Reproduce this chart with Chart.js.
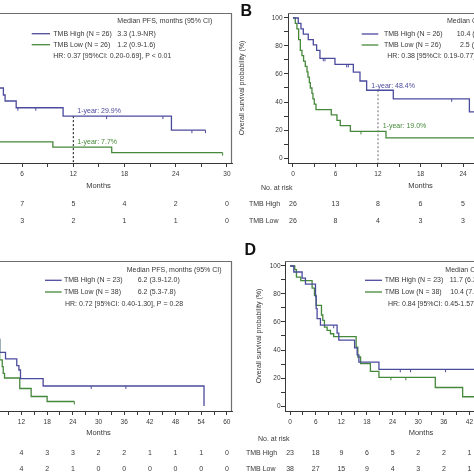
<!DOCTYPE html>
<html>
<head>
<meta charset="utf-8">
<title>TMB High vs TMB Low - Kaplan-Meier curves</title>
<script src="https://cdn.jsdelivr.net/npm/chart.js"></script>
<style>
  html, body { margin: 0; padding: 0; background: #fff; overflow: hidden; }
  body { width: 474px; height: 474px; position: relative; }
  canvas { position: absolute; }
</style>
</head>
<body>
<canvas id="cA"></canvas>
<canvas id="cB"></canvas>
<canvas id="cC"></canvas>
<canvas id="cD"></canvas>
<script>
// ---- data (months / survival %) ----
// A: PFS
const aHiT = [0, 0.9, 1.4, 1.8, 2.2, 2.6, 2.9, 3.3, 3.8, 4.0, 5.3, 10.8, 23.5, 27.5];
const aHiS = [100, 96.2, 88.5, 80.8, 73.1, 65.4, 57.7, 50.0, 45.0, 40.7, 35.9, 29.9, 19.9, 19.9];
const aHiC = [5.5, 7.6, 15.9, 22.5, 25.9, 27.5];
const aLoT = [0, 0.6, 0.9, 1.1, 1.2, 1.5, 1.9, 2.4, 2.9, 3.2, 9.6, 16.5, 29.5];
const aLoS = [100, 88.5, 73.1, 57.7, 46.2, 34.6, 26.9, 19.2, 15.4, 11.5, 7.7, 3.8, 3.8];
const aLoC = [29.5];
const aRiskT = [0, 6, 12, 18, 24, 30];
const aRiskHi = [26, 7, 5, 4, 2, 0];
const aRiskLo = [26, 3, 2, 1, 1, 0];
const aYear = [29.9, 7.7];

// B: OS
const bHiT = [0, 0.75, 1.13, 1.46, 2.16, 2.87, 3.34, 3.81, 5.93, 8.52, 9.46, 10.4, 14.16, 24.9, 30.0];
const bHiS = [100, 96.2, 92.3, 88.5, 84.6, 80.8, 76.9, 71.2, 66.9, 61.3, 55.0, 48.4, 42.3, 33.0, 33.0];
const bHiC = [4.28, 4.52, 7.58, 7.81, 22.4];
const bLoT = [0, 0.33, 0.56, 0.8, 1.04, 1.27, 1.5, 1.74, 1.98, 2.12, 2.31, 2.45, 2.68, 2.82, 3.01, 3.25, 5.41, 6.21, 6.68, 8.1, 13.13, 30.0];
const bLoS = [100, 96.2, 92.3, 84.6, 76.9, 73.1, 69.2, 65.4, 61.5, 57.7, 53.8, 50.0, 46.2, 42.3, 38.5, 34.6, 30.8, 26.9, 23.1, 19.0, 14.4, 14.4];
const bLoC = [9.6];
const bRiskT = [0, 6, 12, 18, 24];
const bRiskHi = [26, 13, 8, 6, 5];
const bRiskLo = [26, 8, 4, 3, 3];
const bYear = [48.4, 19.0];

// C: PFS
const cHiT = [0, 1.6, 2.7, 3.8, 5.0, 6.2, 6.9, 8.27, 10.9, 11.4, 11.77, 17.06, 54.66];
const cHiS = [100, 91.3, 82.6, 69.6, 60.9, 47.8, 38.3, 33.6, 28.8, 25.7, 19.5, 14.3, 0];
const cHiC = [28.3, 36.4];
const cLoT = [0, 1.0, 2.0, 3.0, 4.0, 5.3, 6.2, 6.9, 7.5, 7.73, 8.04, 11.6, 14.26, 17.99, 24.36];
const cLoS = [100, 92.1, 81.6, 71.1, 63.2, 52.6, 47.4, 32.9, 28.1, 23.3, 20.0, 12.5, 6.8, 3.2, 3.2];
const cLoC = [24.36];
const cRiskT = [0, 12, 18, 24, 30, 36, 42, 48, 54, 60];
const cRiskHi = [23, 4, 3, 3, 2, 2, 1, 1, 1, 0];
const cRiskLo = [38, 4, 2, 1, 0, 0, 0, 0, 0, 0];

// D: OS
const dHiT = [0, 0.86, 2.81, 3.59, 5.94, 6.1, 6.32, 7.1, 11.0, 11.4, 15.1, 15.7, 16.1, 20.8, 46.0];
const dHiS = [100, 95.7, 91.3, 87.0, 78.3, 69.6, 62.4, 57.7, 52.0, 47.0, 41.5, 36.5, 31.4, 26.2, 26.2];
const dHiC = [10.2, 25.8, 28.2, 36.4];
const dLoT = [0, 1.09, 1.48, 2.5, 5.15, 5.7, 6.09, 7.34, 7.65, 8.04, 8.67, 9.45, 10.2, 15.46, 15.85, 16.5, 18.8, 20.8, 34.0, 40.4, 46.0];
const dLoS = [100, 97.4, 92.1, 89.5, 84.2, 79.0, 71.9, 65.0, 61.2, 56.4, 54.0, 51.6, 49.5, 42.0, 35.0, 30.2, 24.8, 20.5, 13.2, 6.6, 6.6];
const dLoC = [23.6, 27.1];
const dRiskT = [0, 6, 12, 18, 24, 30, 36, 42];
const dRiskHi = [23, 18, 9, 6, 5, 2, 2, 1];
const dRiskLo = [38, 27, 15, 9, 4, 3, 2, 1];

// legend texts
const aLabels = ['TMB High (N = 26)', 'TMB Low (N = 26)'];
const aMedians = ['3.3 (1.9-NR)', '1.2 (0.9-1.6)'];
const aHR = 'HR: 0.37 [95%CI: 0.20-0.69], P < 0.01';
const bLabels = ['TMB High (N = 26)', 'TMB Low (N = 26)'];
const bMedians = ['10.4 (8.1-NR)', '2.5 (1.9-3.2)'];
const bHR = 'HR: 0.38 [95%CI: 0.19-0.77], P < 0.01';
const cLabels = ['TMB High (N = 23)', 'TMB Low (N = 38)'];
const cMedians = ['6.2 (3.9-12.0)', '6.2 (5.3-7.8)'];
const cHR = 'HR: 0.72 [95%CI: 0.40-1.30], P = 0.28';
const dLabels = ['TMB High (N = 23)', 'TMB Low (N = 38)'];
const dMedians = ['11.7 (6.2-NR)', '10.4 (7.3-15.5)'];
const dHR = 'HR: 0.84 [95%CI: 0.45-1.57], P = 0.59';
const riskNames = ['TMB High', 'TMB Low'];

// ---- drawing ----
const BLUE = '#4b4b9e', GREEN = '#46883b', INK = '#383838';
const FONT = "'Liberation Sans', Arial, Helvetica, sans-serif";
const YMIN = -3.57, YMAX = 103.57;
Chart.defaults.font.family = FONT;
Chart.defaults.color = INK;

function survAt(times, surv, t) {
  let s = surv[0];
  for (let i = 0; i < times.length; i++) if (times[i] <= t) s = surv[i];
  return s;
}
function pts(times, surv) { return times.map((t, i) => ({ x: t, y: surv[i] })); }

const kmDecor = {
  id: 'kmDecor',
  afterDraw(chart) {
    const p = chart.options.plugins.kmDecor;
    const { ctx, chartArea: ca } = chart;
    const xs = chart.scales.x, ys = chart.scales.y;
    const cx = v => v - p.left, cy = v => v - p.top;
    ctx.save();
    // frame top + right
    ctx.strokeStyle = '#6e6e6e'; ctx.lineWidth = 1.2;
    ctx.beginPath();
    ctx.moveTo(ca.left, ca.top + 0.5);
    ctx.lineTo(ca.right - 0.5, ca.top + 0.5);
    ctx.lineTo(ca.right - 0.5, ca.bottom);
    ctx.stroke();

    // panel letter
    ctx.fillStyle = '#111';
    ctx.textAlign = 'left';
    ctx.textBaseline = 'alphabetic';
    ctx.font = `bold 16px ${FONT}`;
    ctx.fillText(p.letter, cx(p.letterX), cy(p.letterY));

    // legend
    const L = p.legend;
    ctx.fillStyle = INK;
    ctx.textBaseline = 'middle';
    ctx.font = `7px ${FONT}`;
    ctx.fillText(L.header, cx(L.headerX), cy(L.headerY));
    [BLUE, GREEN].forEach((col, i) => {
      ctx.strokeStyle = col; ctx.lineWidth = 1.3;
      ctx.beginPath();
      ctx.moveTo(cx(L.lineX[0]), cy(L.rowY[i]));
      ctx.lineTo(cx(L.lineX[1]), cy(L.rowY[i]));
      ctx.stroke();
      ctx.fillText(p.labels[i], cx(L.textX), cy(L.rowY[i]));
      ctx.fillText(p.medians[i], cx(L.medX[i]), cy(L.rowY[i]));
    });
    ctx.fillText(p.hr, cx(L.hrX), cy(L.hrY));

    // 1-year notes
    (p.notes || []).forEach((n, i) => {
      ctx.fillStyle = [BLUE, GREEN][i];
      ctx.fillText('1-year: ' + n.v.toFixed(1) + '%', xs.getPixelForValue(12) + n.dx, ys.getPixelForValue(n.v) + n.dy);
    });

    // risk table
    ctx.fillStyle = INK;
    ctx.font = `7px ${FONT}`;
    ctx.textAlign = 'left';
    ctx.fillText('No. at risk', ca.left - 27, ca.bottom + p.riskHead);
    riskNames.forEach((nm, r) => ctx.fillText(nm, ca.left - 39, ca.bottom + p.riskRows[r]));
    ctx.textAlign = 'center';
    [p.riskHi, p.riskLo].forEach((row, r) => {
      row.forEach((v, i) => ctx.fillText(String(v), xs.getPixelForValue(p.riskT[i]), ca.bottom + p.riskRows[r]));
    });
    ctx.restore();
  }
};

function kmChart(id, p) {
  const el = document.getElementById(id);
  el.width = p.w; el.height = p.h;
  Object.assign(el.style, { left: p.left + 'px', top: p.top + 'px', width: p.w + 'px', height: p.h + 'px' });

  const line = (t, s, col) => ({ data: pts(t, s), showLine: true, stepped: true, borderColor: col, borderWidth: 1.3, pointRadius: 0, fill: false });
  const cens = (c, t, s, col) => ({
    data: c.map(v => ({ x: v, y: survAt(t, s, v) })), showLine: false, pointStyle: 'dash', rotation: 90,
    pointRadius: 3, borderColor: col, borderWidth: 1, pointHoverRadius: 0
  });
  const datasets = [
    line(p.hiT, p.hiS, BLUE), line(p.loT, p.loS, GREEN),
    cens(p.hiC, p.hiT, p.hiS, BLUE), cens(p.loC, p.loT, p.loS, GREEN)
  ];
  if (p.dashAt !== undefined) {
    datasets.push({ data: [{ x: 12, y: p.dashAt }, { x: 12, y: YMIN }], showLine: true, borderColor: p.dashColor,
      borderWidth: 1.1, borderDash: [2, 2], pointRadius: 0 });
  }
  const axisGrid = { drawOnChartArea: false, drawTicks: true, tickLength: 4, color: INK, tickColor: INK, tickWidth: 1 };

  new Chart(el, {
    type: 'scatter',
    data: { datasets },
    plugins: [kmDecor],
    options: {
      responsive: false, animation: false, events: [],
      layout: { padding: { left: 0, right: 5, top: p.padT, bottom: p.padB } },
      plugins: { legend: { display: false }, tooltip: { enabled: false }, kmDecor: p },
      scales: {
        x: {
          type: 'linear', min: p.xMin, max: p.xMax,
          ticks: { stepSize: 3, includeBounds: false, autoSkip: false, maxRotation: 0, padding: p.xtPad,
            font: { size: 6.5 }, callback: v => (Math.abs(v % 6) < 1e-6 ? v : '') },
          grid: axisGrid,
          border: { color: INK, width: 1 },
          title: { display: true, text: 'Months', font: { size: 7.5 }, padding: 0 },
          afterFit: s => { s.height = p.xH; }
        },
        y: {
          min: YMIN, max: YMAX,
          ticks: { stepSize: 10, includeBounds: false, padding: p.ytickPad, font: { size: 6.5 },
            callback: v => (Math.abs(v % 20) < 1e-6 ? v : '') },
          grid: axisGrid,
          border: { color: INK, width: 1 },
          title: { display: true, text: p.ytitle, font: { size: 7 }, padding: { top: p.ytPad, bottom: 0 } },
          afterFit: s => { s.width = 51; }
        }
      }
    }
  });
}

kmChart('cA', {
  left: -86, top: 0, w: 323, h: 237, padT: 13, padB: 46.5, xH: 27.5, xtPad: 3, ytPad: 1.3, ytickPad: 1.5,
  xMin: -0.7, xMax: 30.6, ytitle: 'Progression-free survival probability (%)',
  hiT: aHiT, hiS: aHiS, hiC: aHiC, loT: aLoT, loS: aLoS, loC: aLoC,
  dashAt: aYear[0], dashColor: '#1e1e1e',
  notes: [{ v: aYear[0], dx: 4, dy: -5.3 }, { v: aYear[1], dx: 4, dy: -5 }],
  riskT: aRiskT, riskHi: aRiskHi, riskLo: aRiskLo, riskHead: 25, riskRows: [41, 58],
  letter: 'A', letterX: -82, letterY: 15.5,
  labels: aLabels, medians: aMedians, hr: aHR,
  legend: { header: 'Median PFS, months (95% CI)', headerX: 117.3, headerY: 20.7, lineX: [31.7, 50], rowY: [33.7, 44.7],
    textX: 53.3, medX: [117.3, 117.3], hrX: 53.3, hrY: 56.3 }
});

kmChart('cB', {
  left: 237, top: 0, w: 321, h: 237, padT: 13, padB: 46.5, xH: 27.5, xtPad: 3, ytPad: 1.3, ytickPad: 1.5,
  xMin: -0.7, xMax: 36.7, ytitle: 'Overall survival probability (%)',
  hiT: bHiT, hiS: bHiS, hiC: bHiC, loT: bLoT, loS: bLoS, loC: bLoC,
  dashAt: bYear[0], dashColor: '#7a7a7a',
  notes: [{ v: bYear[0], dx: -6.7, dy: -4.2 }, { v: bYear[1], dx: 4.7, dy: -5.4 }],
  riskT: bRiskT, riskHi: bRiskHi, riskLo: bRiskLo, riskHead: 25, riskRows: [41, 58],
  letter: 'B', letterX: 240.5, letterY: 15.5,
  labels: bLabels, medians: bMedians, hr: bHR,
  legend: { header: 'Median OS, months (95% CI)', headerX: 447, headerY: 20.7, lineX: [361.7, 378.3], rowY: [34, 45],
    textX: 384, medX: [456.7, 460], hrX: 387.3, hrY: 55.7 }
});

kmChart('cC', {
  left: -86, top: 237, w: 323, h: 237, padT: 24, padB: 37, xH: 26, xtPad: 3.5, ytPad: 1.3, ytickPad: 1.5,
  xMin: -1.2, xMax: 61.2, ytitle: 'Progression-free survival probability (%)',
  hiT: cHiT, hiS: cHiS, hiC: cHiC, loT: cLoT, loS: cLoS, loC: cLoC,
  riskT: cRiskT, riskHi: cRiskHi, riskLo: cRiskLo, riskHead: 28, riskRows: [42, 58],
  letter: 'C', letterX: -78, letterY: 255.3,
  labels: cLabels, medians: cMedians, hr: cHR,
  legend: { header: 'Median PFS, months (95% CI)', headerX: 126.7, headerY: 270.3, lineX: [45, 61.7], rowY: [280.3, 292],
    textX: 64, medX: [137.7, 137.7], hrX: 65, hrY: 303.7 }
});

kmChart('cD', {
  left: 234, top: 237, w: 328, h: 237, padT: 24, padB: 37, xH: 26, xtPad: 3.5, ytPad: 20.8, ytickPad: 0.5,
  xMin: -1.2, xMax: 62.5, ytitle: 'Overall survival probability (%)',
  hiT: dHiT, hiS: dHiS, hiC: dHiC, loT: dLoT, loS: dLoS, loC: dLoC,
  riskT: dRiskT, riskHi: dRiskHi, riskLo: dRiskLo, riskHead: 28, riskRows: [42, 58],
  letter: 'D', letterX: 244.5, letterY: 255.3,
  labels: dLabels, medians: dMedians, hr: dHR,
  legend: { header: 'Median OS, months (95% CI)', headerX: 445.3, headerY: 270.3, lineX: [365, 382], rowY: [280.3, 292],
    textX: 384.7, medX: [449.7, 450.3], hrX: 388, hrY: 303.7 }
});
</script>
</body>
</html>
